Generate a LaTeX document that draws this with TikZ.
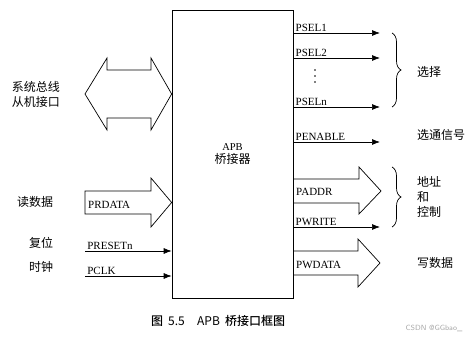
\documentclass[tikz,border=0pt]{standalone}
\usepackage{fontspec}
\setmainfont{Liberation Serif}
\newfontfamily\cjk{Noto Sans CJK SC}
\newfontfamily\cjkbold{Noto Sans CJK SC Medium}
\usetikzlibrary{arrows.meta,decorations.pathreplacing}

\tikzset{
  sig/.style={-{Latex[length=8pt,width=6pt]}, line width=0.7pt},
  sigtext/.style={font=\fontsize{11}{13}\selectfont, inner sep=1pt},
  cntext/.style={font=\cjk\fontsize{12}{14}\selectfont, inner sep=0pt},
  captext/.style={font=\cjk\fontsize{12}{14}\selectfont, inner sep=0pt, anchor=west},
  fatarrow/.style={line width=0.7pt, line join=miter},
  bracket/.style={decorate, decoration={brace, amplitude=9pt}, line width=0.7pt}
}

\begin{document}
\begin{tikzpicture}[x=1pt,y=-1pt]
    \useasboundingbox (0,0) rectangle (474,339);

    % The bridge block in the middle
    \node[draw, line width=0.7pt, minimum width=121pt, minimum height=288pt, inner sep=0pt,
          align=center, font=\fontsize{10.5}{14}\selectfont] (bridge) at (232.5,154)
          {APB\\[-1pt]{\cjk\fontsize{12}{14}\selectfont 桥接器}};

    % System bus slave interface: double fat arrow
    \draw[fatarrow] (bridge.west |- 0,94) -- (151,58) -- (151,70) -- (107,70) -- (107,58)
                    -- (85,94) -- (107,130) -- (107,118) -- (151,118) -- (151,130) -- cycle;
    \node[cntext, align=center] (busl) at (36,94) {系统总线\\[1pt]从机接口};

    % Read data comes in as a fat arrow
    \draw[fatarrow] (85,191) -- (151,191) -- (151,178) -- (bridge.west |- 0,202.5)
                    -- (151,227) -- (151,214) -- (85,214) -- cycle;
    \node[sigtext, anchor=west] (prdata) at (87,204.5) {PRDATA};
    \node[cntext] (rdl) at (35,202) {读数据};

    % Reset and clock inputs
    \coordinate (rst) at (85,251);
    \coordinate (clk) at (85,276);
    \draw[sig] (rst) node[sigtext, above right, xshift=1pt] {PRESETn} -- (bridge.west |- rst);
    \draw[sig] (clk) node[sigtext, above right, xshift=1pt] {PCLK} -- (bridge.west |- clk);
    \node[cntext] (rstl) at (41,243) {复位};
    \node[cntext] (clkl) at (41,267) {时钟};

    % Select outputs
    \coordinate (psel1) at (380,33);
    \coordinate (psel2) at (380,58);
    \coordinate (pseln) at (380,107);
    \coordinate (pen) at (380,142);
    \draw[sig] (bridge.east |- psel1) node[sigtext, above right, xshift=1pt] {PSEL1} -- (psel1);
    \draw[sig] (bridge.east |- psel2) node[sigtext, above right, xshift=1pt] {PSEL2} -- (psel2);
    \draw[sig] (bridge.east |- pseln) node[sigtext, above right, xshift=1pt] {PSELn} -- (pseln);
    \foreach \y in {70,76,82} \fill (315,\y) circle (0.9pt);
    \draw[bracket] (392,33) -- (392,107);
    \node[cntext, anchor=west] (sell) at (417,72) {选择};

    \draw[sig] (bridge.east |- pen) node[sigtext, above right, xshift=1pt] {PENABLE} -- (pen);
    \node[cntext, anchor=west] (penl) at (417,135) {选通信号};

    % Address and control
    \draw[fatarrow] (bridge.east |- 0,179) -- (359,179) -- (359,167) -- (381,191)
                    -- (359,214) -- (359,203) -- (bridge.east |- 0,203);
    \node[sigtext, anchor=west] (paddr) at (295,192) {PADDR};
    \coordinate (pwr) at (380,227);
    \draw[sig] (bridge.east |- pwr) node[sigtext, above right, xshift=1pt] {PWRITE} -- (pwr);
    \draw[bracket] (392,167) -- (392,227);
    \node[cntext, align=left, anchor=west] (adl) at (417,197) {地址\\[1pt]和\\[1pt]控制};

    % Write data
    \draw[fatarrow] (bridge.east |- 0,251) -- (358,251) -- (358,239) -- (380,263)
                    -- (358,287) -- (358,275) -- (bridge.east |- 0,275);
    \node[sigtext, anchor=west] (pwdata) at (295,265) {PWDATA};
    \node[cntext, anchor=west] (wdl) at (417,263) {写数据};

    % Caption and watermark
    \node[captext, font=\cjkbold\fontsize{12}{14}\selectfont] (capfig) at (151,321) {图};
    \node[captext] (capnum) at (168,321) {5.5};
    \node[captext] (capapb) at (197,321) {APB};
    \node[captext, font=\cjkbold\fontsize{12}{14}\selectfont] (captitle) at (225,321) {桥接口框图};
    \node[font=\sffamily\fontsize{7.5}{9}\selectfont, text=gray!70] (mark) at (434,328) {CSDN @GGbao\_};

\end{tikzpicture}
\end{document}
